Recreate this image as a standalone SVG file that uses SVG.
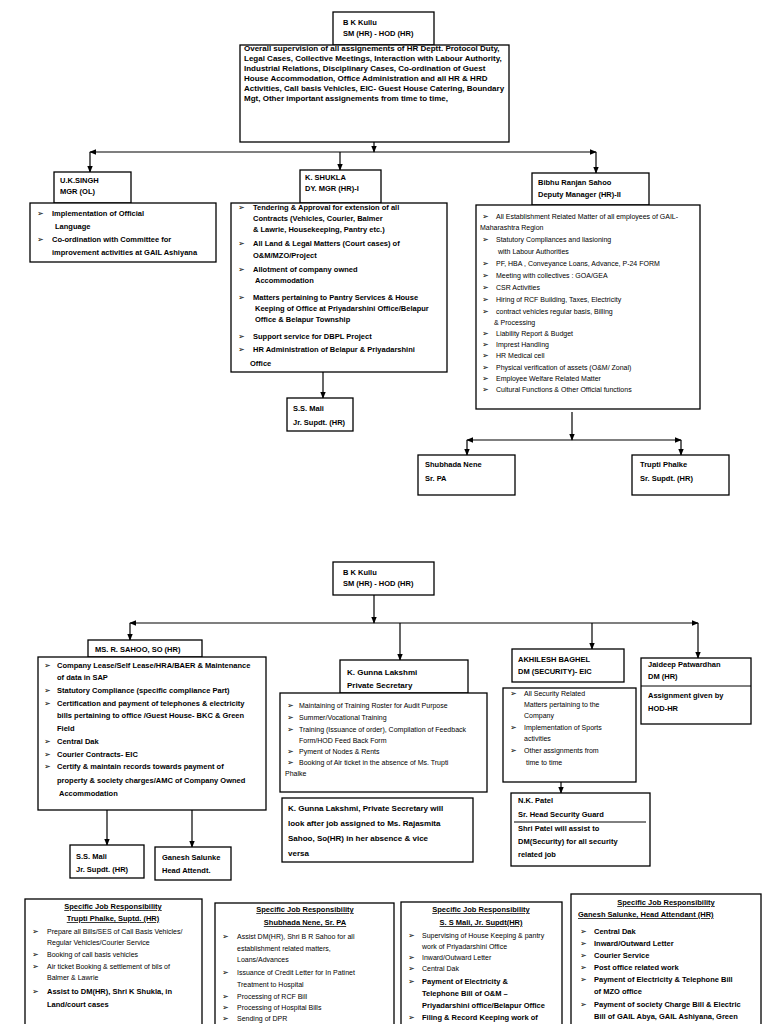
<svg xmlns="http://www.w3.org/2000/svg" width="768" height="1024" viewBox="0 0 768 1024">
<style>
.bx{fill:#fff;stroke:#000;stroke-width:1.3}
.b{font-family:"Liberation Sans",Arial,sans-serif;font-size:7.5px;font-weight:bold;fill:#000}
.r{font-family:"Liberation Sans",Arial,sans-serif;font-size:7px;fill:#000}
.t{font-family:"Liberation Sans",Arial,sans-serif;font-size:8px;font-weight:bold;fill:#000}
.s{font-size:8px}
.u{text-decoration:underline}
.bl{font-family:"DejaVu Sans",sans-serif;font-size:8px;fill:#000}
.ln{stroke:#000;stroke-width:1.2;fill:none}
</style>
<defs>
<marker id="ah" viewBox="0 0 10 10" refX="9" refY="5" markerWidth="6" markerHeight="6" orient="auto"><path d="M0,1 L10,5 L0,9 z" fill="#000"/></marker>
</defs>
<rect width="768" height="1024" fill="#fff"/>
<g id="connectors">
<line class="ln" x1="374" y1="142" x2="374" y2="152" marker-end="url(#ah)"/>
<line class="ln" x1="374" y1="152" x2="90" y2="152" marker-end="url(#ah)"/>
<line class="ln" x1="374" y1="152" x2="596" y2="152" marker-end="url(#ah)"/>
<line class="ln" x1="90" y1="152" x2="90" y2="172" marker-end="url(#ah)"/>
<line class="ln" x1="340" y1="152" x2="340" y2="170" marker-end="url(#ah)"/>
<line class="ln" x1="596" y1="152" x2="596" y2="173" marker-end="url(#ah)"/>
<line class="ln" x1="323" y1="372" x2="323" y2="398" marker-end="url(#ah)"/>
<line class="ln" x1="572" y1="412" x2="572" y2="440" marker-end="url(#ah)"/>
<line class="ln" x1="572" y1="440" x2="467" y2="440" marker-end="url(#ah)"/>
<line class="ln" x1="572" y1="440" x2="681" y2="440" marker-end="url(#ah)"/>
<line class="ln" x1="467" y1="440" x2="467" y2="455" marker-end="url(#ah)"/>
<line class="ln" x1="681" y1="440" x2="681" y2="455" marker-end="url(#ah)"/>
<line class="ln" x1="374" y1="595" x2="374" y2="623" marker-end="url(#ah)"/>
<line class="ln" x1="374" y1="623" x2="130" y2="623" marker-end="url(#ah)"/>
<line class="ln" x1="374" y1="623" x2="698" y2="623" marker-end="url(#ah)"/>
<line class="ln" x1="130" y1="623" x2="130" y2="640" marker-end="url(#ah)"/>
<line class="ln" x1="400" y1="623" x2="400" y2="660" marker-end="url(#ah)"/>
<line class="ln" x1="592" y1="623" x2="592" y2="649" marker-end="url(#ah)"/>
<line class="ln" x1="698" y1="623" x2="698" y2="658" marker-end="url(#ah)"/>
<line class="ln" x1="561" y1="782" x2="561" y2="793" marker-end="url(#ah)"/>
<line class="ln" x1="107" y1="810" x2="107" y2="845" marker-end="url(#ah)" stroke="#777"/>
<line class="ln" x1="192" y1="810" x2="192" y2="847" marker-end="url(#ah)"/>
</g>

<g id="bkkullu1">
<rect class="bx" x="333" y="12" width="101" height="33"/>
<text class="b" x="343" y="25" font-size="6.5">B K Kullu</text>
<text class="b" x="343" y="36" font-size="6.5">SM (HR) - HOD (HR)</text>
</g>
<g id="supervision">
<rect class="bx" x="240" y="45" width="269" height="97"/>
<text class="b s" x="244" y="51">Overall supervision of all assignements of HR Deptt. Protocol Duty,</text>
<text class="b s" x="244" y="61">Legal Cases, Collective Meetings, Interaction with Labour Authority,</text>
<text class="b s" x="244" y="71">Industrial Relations, Disciplinary Cases, Co-ordination of Guest</text>
<text class="b s" x="244" y="81">House Accommodation, Office Administration and all HR &amp; HRD</text>
<text class="b s" x="244" y="91">Activities,  Call basis Vehicles,  EIC- Guest House Catering, Boundary</text>
<text class="b s" x="244" y="101">Mgt, Other important assignements from time to time,</text>
</g>

<g id="uksingh">
<rect class="bx" x="54" y="172" width="77" height="31"/>
<text class="b" x="60" y="183">U.K.SINGH</text>
<text class="b" x="60" y="194">MGR (OL)</text>
<rect class="bx" x="30" y="203" width="186" height="59"/>
<text class="bl" x="37" y="216">➢</text><text class="b" x="52" y="216">Implementation of Official</text>
<text class="b" x="55" y="229">Language</text>
<text class="bl" x="37" y="242">➢</text><text class="b" x="52" y="242">Co-ordination with Committee for</text>
<text class="b" x="52" y="255">improvement activities at GAIL Ashiyana</text>
</g>

<g id="kshukla">
<rect class="bx" x="300" y="170" width="81" height="33"/>
<text class="b" x="305" y="180" font-size="6.5">K. SHUKLA</text>
<text class="b" x="305" y="191" font-size="6.5">DY. MGR (HR)-I</text>
<rect class="bx" x="231" y="203" width="216" height="169"/>
<text class="bl" x="238" y="210">➢</text><text class="b" x="253" y="210">Tendering &amp; Approval for extension of all</text>
<text class="b" x="253" y="221">Contracts (Vehicles, Courier, Balmer</text>
<text class="b" x="253" y="232">&amp; Lawrie, Housekeeping, Pantry etc.)</text>
<text class="bl" x="238" y="246">➢</text><text class="b" x="253" y="246">All Land &amp; Legal Matters (Court cases) of</text>
<text class="b" x="253" y="258">O&amp;M/MZO/Project</text>
<text class="bl" x="238" y="272">➢</text><text class="b" x="253" y="272">Allotment of company owned</text>
<text class="b" x="255" y="283">Accommodation</text>
<text class="bl" x="238" y="300">➢</text><text class="b" x="253" y="300">Matters pertaining to Pantry Services &amp; House</text>
<text class="b" x="255" y="311">Keeping of Office at Priyadarshini Office/Belapur</text>
<text class="b" x="255" y="322">Office &amp; Belapur Township</text>
<text class="bl" x="238" y="339">➢</text><text class="b" x="253" y="339">Support service for DBPL Project</text>
<text class="bl" x="238" y="352">➢</text><text class="b" x="253" y="352">HR Administration of Belapur &amp; Priyadarshini</text>
<text class="b" x="250" y="366">Office</text>
</g>

<g id="bibhu">
<rect class="bx" x="532" y="173" width="117" height="32"/>
<text class="b" x="538" y="185">Bibhu Ranjan Sahoo</text>
<text class="b" x="538" y="197">Deputy Manager (HR)-II</text>
<rect class="bx" x="476" y="205" width="224" height="204"/>
<text class="bl" x="482" y="219">➢</text><text class="r" x="496" y="219">All Establishment Related Matter of all employees of GAIL-</text>
<text class="r" x="480" y="230">Maharashtra Region</text>
<text class="bl" x="482" y="242">➢</text><text class="r" x="496" y="242">Statutory Compliances and liasioning</text>
<text class="r" x="498" y="254">with Labour Authorities</text>
<text class="bl" x="482" y="266">➢</text><text class="r" x="496" y="266">PF, HBA , Conveyance Loans, Advance, P-24 FORM</text>
<text class="bl" x="482" y="278">➢</text><text class="r" x="496" y="278">Meeting with collectives : GOA/GEA</text>
<text class="bl" x="482" y="290">➢</text><text class="r" x="496" y="290">CSR Activities</text>
<text class="bl" x="482" y="302">➢</text><text class="r" x="496" y="302">Hiring of RCF Building, Taxes,   Electricity</text>
<text class="bl" x="482" y="314">➢</text><text class="r" x="496" y="314">contract vehicles regular basis, Billing</text>
<text class="r" x="494" y="325">&amp; Processing</text>
<text class="bl" x="482" y="336">➢</text><text class="r" x="496" y="336">Liability Report &amp; Budget</text>
<text class="bl" x="482" y="347">➢</text><text class="r" x="496" y="347">Imprest Handling</text>
<text class="bl" x="482" y="358">➢</text><text class="r" x="496" y="358">HR Medical cell</text>
<text class="bl" x="482" y="370">➢</text><text class="r" x="496" y="370">Physical verification of assets (O&amp;M/ Zonal)</text>
<text class="bl" x="482" y="381">➢</text><text class="r" x="496" y="381">Employee Welfare Related Matter</text>
<text class="bl" x="482" y="392">➢</text><text class="r" x="496" y="392">Cultural Functions &amp; Other Official functions</text>
</g>

<g id="ssmali1">
<rect class="bx" x="287" y="398" width="66" height="33"/>
<text class="b" x="293" y="411">S.S. Mali</text>
<text class="b" x="293" y="425">Jr. Supdt. (HR)</text>
</g>
<g id="shubhada1">
<rect class="bx" x="418" y="455" width="97" height="40"/>
<text class="b" x="425" y="467">Shubhada Nene</text>
<text class="b" x="425" y="481">Sr. PA</text>
</g>
<g id="trupti1">
<rect class="bx" x="632" y="455" width="97" height="40"/>
<text class="b" x="640" y="467">Trupti Phalke</text>
<text class="b" x="640" y="481">Sr. Supdt. (HR)</text>
</g>

<g id="bkkullu2">
<rect class="bx" x="333" y="562" width="101" height="33"/>
<text class="b" x="343" y="575" font-size="6.5">B K Kullu</text>
<text class="b" x="343" y="586" font-size="6.5">SM (HR) - HOD (HR)</text>
</g>

<g id="rsahoo">
<rect class="bx" x="88" y="640" width="114" height="17"/>
<text class="b" x="95" y="652" font-size="6.5">MS. R. SAHOO, SO (HR)</text>
<rect class="bx" x="38" y="657" width="228" height="153"/>
<text class="bl" x="44" y="668">➢</text><text class="b" x="57" y="668">Company Lease/Self Lease/HRA/BAER &amp; Maintenance</text>
<text class="b" x="57" y="680">of data in SAP</text>
<text class="bl" x="44" y="693">➢</text><text class="b" x="57" y="693">Statutory Compliance (specific compliance Part)</text>
<text class="bl" x="44" y="706">➢</text><text class="b" x="57" y="706">Certification and payment of telephones &amp; electricity</text>
<text class="b" x="57" y="718">bills    pertaining to office /Guest House- BKC &amp; Green</text>
<text class="b" x="57" y="731">Field</text>
<text class="bl" x="44" y="744">➢</text><text class="b" x="57" y="744">Central Dak</text>
<text class="bl" x="44" y="757">➢</text><text class="b" x="57" y="757">Courier Contracts- EIC</text>
<text class="bl" x="44" y="769">➢</text><text class="b" x="57" y="769">Certify &amp; maintain records towards payment of</text>
<text class="b" x="57" y="783">property &amp; society charges/AMC of Company Owned</text>
<text class="b" x="59" y="796">Accommodation</text>
</g>

<g id="gunna">
<rect class="bx" x="340" y="660" width="128" height="33"/>
<text class="t" x="347" y="675">K. Gunna Lakshmi</text>
<text class="t" x="347" y="688">Private Secretary</text>
<rect class="bx" x="280" y="693" width="207" height="99"/>
<text class="bl" x="287" y="708">➢</text><text class="r" x="299" y="708">Maintaining of Training Roster for Audit  Purpose</text>
<text class="bl" x="287" y="720">➢</text><text class="r" x="299" y="720">Summer/Vocational Training</text>
<text class="bl" x="287" y="732">➢</text><text class="r" x="299" y="732">Training (Issuance of order), Compilation of Feedback</text>
<text class="r" x="299" y="743">Form/HOD Feed Back Form</text>
<text class="bl" x="287" y="754">➢</text><text class="r" x="299" y="754">Pyment of Nodes &amp; Rents</text>
<text class="bl" x="287" y="765">➢</text><text class="r" x="299" y="765">Booking of Air ticket in the absence of Ms. Trupti</text>
<text class="r" x="285" y="776">Phalke</text>
</g>
<g id="gunnanote">
<rect class="bx" x="282" y="798" width="191" height="64"/>
<text class="t" x="288" y="811">K. Gunna Lakshmi, Private Secretary will</text>
<text class="t" x="288" y="826">look after  job assigned to Ms. Rajasmita</text>
<text class="t" x="288" y="841">Sahoo, So(HR)  in her absence &amp; vice</text>
<text class="t" x="288" y="856">versa</text>
</g>

<g id="akhilesh">
<rect class="bx" x="512" y="649" width="112" height="33"/>
<text class="b" x="518" y="662" font-size="6.5">AKHILESH BAGHEL</text>
<text class="b" x="518" y="674" font-size="6.5">DM (SECURITY)- EIC</text>
<rect class="bx" x="503" y="688" width="133" height="94"/>
<text class="bl" x="510" y="696">➢</text><text class="r" x="524" y="696">All Security Related</text>
<text class="r" x="524" y="707">Matters pertaining to the</text>
<text class="r" x="524" y="718">Company</text>
<text class="bl" x="510" y="730">➢</text><text class="r" x="524" y="730">Implementation of Sports</text>
<text class="r" x="524" y="741">activities</text>
<text class="bl" x="510" y="753">➢</text><text class="r" x="524" y="753">Other assignments from</text>
<text class="r" x="526" y="765">time to time</text>
</g>
<g id="nkpatel">
<rect class="bx" x="511" y="793" width="139" height="73"/>
<text class="b" x="518" y="803">N.K. Patel</text>
<text class="b" x="518" y="817">Sr. Head Security Guard</text>
<line x1="514" y1="822" x2="646" y2="822" stroke="#000" stroke-width="1"/>
<text class="b" x="518" y="831">Shri Patel will assist to</text>
<text class="b" x="518" y="844">DM(Security) for all security</text>
<text class="b" x="518" y="857">related job</text>
</g>
<g id="jaideep">
<rect class="bx" x="641" y="658" width="110" height="66"/>
<text class="b" x="648" y="667" font-size="6.5">Jaideep Patwardhan</text>
<text class="b" x="648" y="679" font-size="6.5">DM (HR)</text>
<line x1="641" y1="686" x2="751" y2="686" stroke="#000" stroke-width="1"/>
<text class="b" x="648" y="698">Assignment given by</text>
<text class="b" x="648" y="711">HOD-HR</text>
</g>

<g id="ssmali2">
<rect class="bx" x="70" y="845" width="74" height="33"/>
<text class="b" x="76" y="859">S.S. Mali</text>
<text class="b" x="76" y="872">Jr. Supdt. (HR)</text>
</g>
<g id="ganesh2">
<rect class="bx" x="155" y="847" width="76" height="33"/>
<text class="b" x="162" y="860">Ganesh Salunke</text>
<text class="b" x="162" y="873">Head Attendt.</text>
</g>

<g id="resp-trupti">
<rect class="bx" x="25" y="899" width="177" height="131"/>
<text class="b u" x="113" y="909" text-anchor="middle">Specific Job Responsibility</text>
<text class="b u" x="113" y="921" text-anchor="middle">Trupti Phalke, Suptd. (HR)</text>
<text class="bl" x="32" y="934">➢</text><text class="r" x="47" y="934">Prepare all Bills/SES of Call Basis Vehicles/</text>
<text class="r" x="47" y="945">Regular Vehicles/Courier Service</text>
<text class="bl" x="32" y="957">➢</text><text class="r" x="47" y="957">Booking of call basis vehicles</text>
<text class="bl" x="32" y="969">➢</text><text class="r" x="47" y="969">Air ticket Booking &amp; settlement of bils of</text>
<text class="r" x="47" y="980">Balmer &amp; Lawrie</text>
<text class="bl" x="32" y="994">➢</text><text class="b" x="47" y="994">Assist to DM(HR), Shri K Shukla,  in</text>
<text class="b" x="47" y="1007">Land/court cases</text>
</g>
<g id="resp-shubhada">
<rect class="bx" x="215" y="903" width="179" height="127"/>
<text class="b u" x="305" y="912" text-anchor="middle">Specific Job Responsibility</text>
<text class="b u" x="305" y="925" text-anchor="middle">Shubhada Nene, Sr. PA</text>
<text class="bl" x="222" y="939">➢</text><text class="r" x="237" y="939">Assist DM(HR), Shri B R Sahoo for all</text>
<text class="r" x="237" y="951">establishment related matters,</text>
<text class="r" x="237" y="962">Loans/Advances</text>
<text class="bl" x="222" y="975">➢</text><text class="r" x="237" y="975">Issuance of Credit Letter for In Patinet</text>
<text class="r" x="237" y="987">Treatment to Hospital</text>
<text class="bl" x="222" y="999">➢</text><text class="r" x="237" y="999">Processing of RCF Bill</text>
<text class="bl" x="222" y="1010">➢</text><text class="r" x="237" y="1010">Processing of Hospital Bills</text>
<text class="bl" x="222" y="1021">➢</text><text class="r" x="237" y="1021">Sending of DPR</text>
</g>
<g id="resp-ssmali">
<rect class="bx" x="401" y="902" width="161" height="128"/>
<text class="b u" x="481" y="912" text-anchor="middle">Specific Job Responsibility</text>
<text class="b u" x="481" y="925" text-anchor="middle">S. S Mali, Jr. Supdt(HR)</text>
<text class="bl" x="408" y="938">➢</text><text class="r" x="422" y="938">Supervising of House Keeping &amp; pantry</text>
<text class="r" x="422" y="949">work of Priyadarshini Office</text>
<text class="bl" x="408" y="960">➢</text><text class="r" x="422" y="960">Inward/Outward Letter</text>
<text class="bl" x="408" y="971">➢</text><text class="r" x="422" y="971">Central Dak</text>
<text class="bl" x="408" y="984">➢</text><text class="b" x="422" y="984">Payment of Electricity &amp;</text>
<text class="b" x="422" y="996">Telephone Bill of O&amp;M –</text>
<text class="b" x="422" y="1008">Priyadarshini office/Belapur Office</text>
<text class="bl" x="408" y="1020">➢</text><text class="b" x="422" y="1020">Filing &amp; Record Keeping work of</text>
</g>
<g id="resp-ganesh">
<rect class="bx" x="571" y="894" width="190" height="136"/>
<text class="b u" x="666" y="905" text-anchor="middle">Specific Job Responsibility</text>
<text class="b u" x="578" y="917">Ganesh Salunke, Head Attendant (HR)</text>
<text class="bl" x="580" y="934">➢</text><text class="b" x="594" y="934">Central Dak</text>
<text class="bl" x="580" y="946">➢</text><text class="b" x="594" y="946">Inward/Outward Letter</text>
<text class="bl" x="580" y="958">➢</text><text class="b" x="594" y="958">Courier Service</text>
<text class="bl" x="580" y="970">➢</text><text class="b" x="594" y="970">Post office related work</text>
<text class="bl" x="580" y="982">➢</text><text class="b" x="594" y="982">Payment of Electricity &amp; Telephone Bill</text>
<text class="b" x="594" y="994">of MZO office</text>
<text class="bl" x="580" y="1007">➢</text><text class="b" x="594" y="1007">Payment of society Charge Bill &amp; Electric</text>
<text class="b" x="594" y="1019">Bill of GAIL Abya, GAIL Ashiyana, Green</text>
</g>
</svg>
